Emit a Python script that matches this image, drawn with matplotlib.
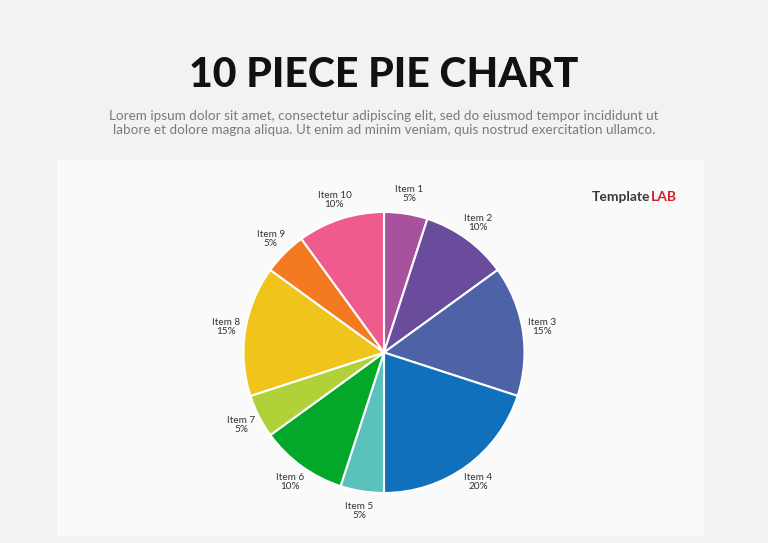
import matplotlib.pyplot as plt
from matplotlib.patches import Rectangle

labels = ["Item 1", "Item 2", "Item 3", "Item 4", "Item 5",
          "Item 6", "Item 7", "Item 8", "Item 9", "Item 10"]
shares = [5, 10, 15, 20, 5, 10, 5, 15, 5, 10]
colors = ["#a8529d", "#6a4c9c", "#4e62a8", "#1170bc", "#5bc1bb",
          "#03a82b", "#b0d137", "#f0c41b", "#f47a22", "#ef5b8c"]

W, H = 768, 543

fig = plt.figure(figsize=(W / 100, H / 100), dpi=100)
fig.patch.set_facecolor("#f2f2f2")

# light panel behind the pie
fig.patches.append(Rectangle((57 / W, 1 - 536 / H), (704 - 57) / W, (536 - 160) / H,
                             transform=fig.transFigure, facecolor="#fafafa",
                             edgecolor="none", zorder=-5))

fig.text(0.5, 1 - 75 / H, "10 PIECE PIE CHART", ha="center", va="center",
         fontsize=29.5, fontweight="black", family="Lato", color="#111111")
fig.text(0.5, 1 - 123 / H,
         "Lorem ipsum dolor sit amet, consectetur adipiscing elit, sed do eiusmod tempor incididunt ut\n"
         "labore et dolore magna aliqua. Ut enim ad minim veniam, quis nostrud exercitation ullamco.",
         ha="center", va="center", fontsize=9.75, family="Lato", color="#7a7a7a",
         linespacing=1.3)

# logo
fig.text(592 / W, 1 - 197 / H, "Template", ha="left", va="center",
         fontsize=10, fontweight="bold", family="Lato", color="#3a3a3a")
fig.text(651 / W, 1 - 197 / H, "LAB", ha="left", va="center",
         fontsize=10, fontweight="bold", family="Lato", color="#d3202f")

cx, cy, r = 384, 352.5, 140.5
ax = fig.add_axes([(cx - r) / W, (H - cy - r) / H, 2 * r / W, 2 * r / H])
ax.set_zorder(2)
texts = [f"{n}\n{v}%" for n, v in zip(labels, shares)]
wedges, txts = ax.pie(shares, colors=colors, labels=texts, startangle=90,
                      counterclock=False, labeldistance=1.14,
                      wedgeprops=dict(edgecolor="white", linewidth=1.5),
                      textprops=dict(fontsize=7.2, color="#333333", family="Lato",
                                     va="center", linespacing=1.0))
for tx in txts:
    tx.set_ha("center")
ax.set_xlim(-1, 1)
ax.set_ylim(-1, 1)
ax.set_aspect("equal")
ax.axis("off")

fig.savefig("out.png", dpi=100, facecolor=fig.get_facecolor())
